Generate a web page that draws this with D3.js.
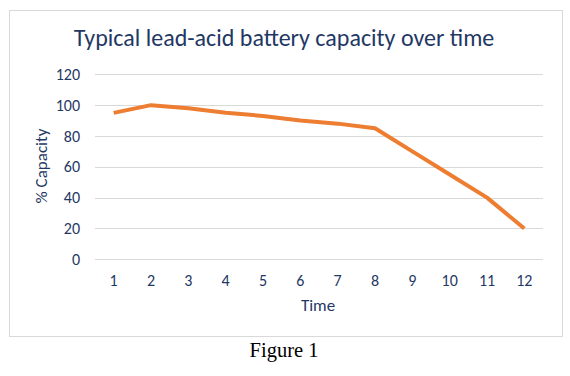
<!DOCTYPE html>
<html>
<head>
<meta charset="utf-8">
<script src="https://d3js.org/d3.v7.min.js"></script>
<style>
body { margin: 0; background: #fff; }
svg text { font-family: Carlito, Calibri, Lato, "Open Sans", sans-serif; }
</style>
</head>
<body>
<div id="chart"></div>
<script>
var times = [1, 2, 3, 4, 5, 6, 7, 8, 9, 10, 11, 12];
var capacity = [95, 100, 98, 95, 93, 90, 88, 85, 70, 55, 40, 20];
var yTicks = [0, 20, 40, 60, 80, 100, 120];

var width = 570, height = 376;
var navy = "#1f3864";

var svg = d3.select("#chart").append("svg")
	.attr("width", width)
	.attr("height", height);

// chart frame
svg.append("rect")
	.attr("x", 9.5).attr("y", 10.5)
	.attr("width", 553).attr("height", 326)
	.attr("fill", "#fff")
	.attr("stroke", "#d9d9d9");

var x = d3.scaleBand().domain(times).range([95, 543]);
var y = d3.scaleLinear().domain([0, 120]).range([259.3, 74.3]);

// gridlines
svg.append("g").selectAll("line")
	.data(yTicks)
	.enter().append("line")
	.attr("x1", 95).attr("x2", 543)
	.attr("y1", function(d) { return Math.round(y(d)) + 0.5; })
	.attr("y2", function(d) { return Math.round(y(d)) + 0.5; })
	.attr("stroke", "#d9d9d9")
	.attr("stroke-width", 1);

// y tick labels
svg.append("g").selectAll("text")
	.data(yTicks)
	.enter().append("text")
	.attr("x", 80)
	.attr("y", function(d) { return y(d); })
	.attr("dy", "0.35em")
	.attr("text-anchor", "end")
	.attr("font-size", "16px")
	.attr("fill", navy)
	.text(function(d) { return d; });

// x tick labels
svg.append("g").selectAll("text")
	.data(times)
	.enter().append("text")
	.attr("x", function(d) { return x(d) + x.bandwidth() / 2; })
	.attr("y", 280)
	.attr("dy", "0.35em")
	.attr("text-anchor", "middle")
	.attr("font-size", "16px")
	.attr("fill", navy)
	.text(function(d) { return d; });

// the line
var line = d3.line()
	.x(function(d, i) { return x(times[i]) + x.bandwidth() / 2; })
	.y(function(d) { return y(d); });

svg.append("path")
	.datum(capacity)
	.attr("d", line)
	.attr("fill", "none")
	.attr("stroke", "#ed7d31")
	.attr("stroke-width", 4)
	.attr("stroke-linejoin", "round");

// titles
svg.append("text")
	.attr("x", 284).attr("y", 46)
	.attr("text-anchor", "middle")
	.attr("font-size", "24px")
	.attr("fill", navy)
	.text("Typical lead-acid battery capacity over time");

svg.append("text")
	.attr("x", 318).attr("y", 305)
	.attr("dy", "0.35em")
	.attr("text-anchor", "middle")
	.attr("font-size", "17px")
	.attr("fill", navy)
	.text("Time");

svg.append("text")
	.attr("transform", "translate(41,166) rotate(-90)")
	.attr("dy", "0.35em")
	.attr("text-anchor", "middle")
	.attr("font-size", "17px")
	.attr("fill", navy)
	.text("% Capacity");

// caption below the chart
svg.append("text")
	.attr("x", 284).attr("y", 357)
	.attr("text-anchor", "middle")
	.attr("font-size", "20.5px")
	.attr("fill", "#000")
	.style("font-family", "'Liberation Serif', 'Times New Roman', serif")
	.text("Figure 1");
</script>
</body>
</html>
